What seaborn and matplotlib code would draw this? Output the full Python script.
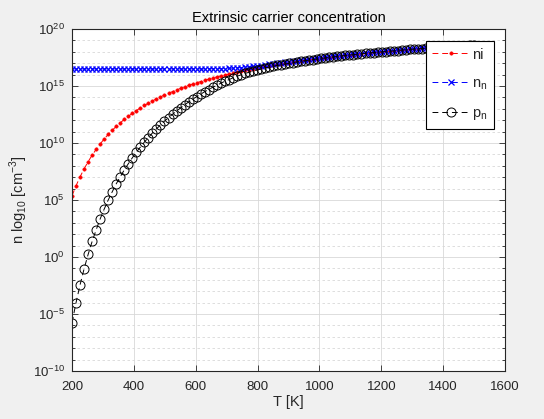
import numpy as np
import matplotlib
matplotlib.use('Agg')
import matplotlib.pyplot as plt
import seaborn as sns
from matplotlib.ticker import FixedLocator, NullFormatter

# temperature grid, K (200..1500, 13 K step)
T = list(range(200, 1501, 13))

# log10 of concentrations [cm^-3]
log_ni = [
    5.37, 6.25, 7.03, 7.73, 8.36, 8.93, 9.44, 9.92, 10.35, 10.75,
    11.11, 11.46, 11.77, 12.07, 12.34, 12.60, 12.85, 13.07, 13.29, 13.49,
    13.69, 13.87, 14.04, 14.21, 14.36, 14.51, 14.65, 14.79, 14.92, 15.05,
    15.17, 15.28, 15.39, 15.50, 15.60, 15.70, 15.79, 15.88, 15.97, 16.05,
    16.14, 16.22, 16.29, 16.37, 16.44, 16.51, 16.58, 16.64, 16.71, 16.77,
    16.83, 16.89, 16.94, 17.00, 17.05, 17.11, 17.16, 17.21, 17.26, 17.30,
    17.35, 17.40, 17.44, 17.48, 17.53, 17.57, 17.61, 17.65, 17.69, 17.72,
    17.76, 17.80, 17.83, 17.87, 17.90, 17.94, 17.97, 18.00, 18.03, 18.06,
    18.09, 18.12, 18.15, 18.18, 18.21, 18.24, 18.26, 18.29, 18.32, 18.34,
    18.37, 18.39, 18.42, 18.44, 18.47, 18.49, 18.51, 18.54, 18.56, 18.58,
    18.60,
]
log_nn = [16.50] * 30 + [
    16.50, 16.50, 16.50, 16.50, 16.51, 16.51, 16.52, 16.52, 16.53, 16.55,
    16.57, 16.59, 16.61, 16.64, 16.68, 16.71, 16.76, 16.79, 16.84, 16.89,
    16.93, 16.98, 17.02, 17.07, 17.11, 17.16, 17.21, 17.25, 17.30, 17.33,
    17.38, 17.43, 17.46, 17.50, 17.55, 17.59, 17.63, 17.67, 17.70, 17.73,
    17.77, 17.81, 17.84, 17.88, 17.91, 17.95, 17.98, 18.01, 18.04, 18.07,
    18.10, 18.13, 18.15, 18.18, 18.21, 18.24, 18.26, 18.29, 18.32, 18.34,
    18.37, 18.39, 18.42, 18.44, 18.47, 18.49, 18.51, 18.54, 18.56, 18.58,
    18.60,
]
log_pn = [
    -5.76, -4.00, -2.44, -1.04, 0.22, 1.36, 2.38, 3.34, 4.20, 5.00,
    5.72, 6.42, 7.04, 7.64, 8.18, 8.70, 9.20, 9.64, 10.08, 10.48,
    10.88, 11.24, 11.58, 11.92, 12.22, 12.52, 12.80, 13.08, 13.34, 13.60,
    13.84, 14.06, 14.28, 14.50, 14.69, 14.89, 15.06, 15.24, 15.41, 15.55,
    15.71, 15.85, 15.97, 16.10, 16.20, 16.31, 16.40, 16.49, 16.58, 16.65,
    16.73, 16.80, 16.86, 16.93, 16.99, 17.06, 17.11, 17.17, 17.22, 17.27,
    17.32, 17.37, 17.42, 17.46, 17.51, 17.55, 17.59, 17.63, 17.68, 17.71,
    17.75, 17.79, 17.82, 17.86, 17.89, 17.93, 17.96, 17.99, 18.02, 18.05,
    18.08, 18.11, 18.15, 18.18, 18.21, 18.24, 18.25, 18.28, 18.31, 18.33,
    18.36, 18.38, 18.41, 18.43, 18.46, 18.48, 18.50, 18.53, 18.55, 18.57,
    18.59,
]

labels = ['ni', r'$\mathregular{n_n}$', r'$\mathregular{p_n}$']

sns.set_style('ticks')
plt.rcParams['font.family'] = ['Liberation Sans', 'DejaVu Sans']
plt.rcParams['mathtext.fontset'] = 'custom'
plt.rcParams['mathtext.rm'] = 'Liberation Sans'

fig = plt.figure(figsize=(5.44, 4.19), dpi=100, facecolor='#f0f0f0')
ax = fig.add_axes([0.1324, 0.1146, 0.7959, 0.8162])
ax.set_facecolor('white')

dash = (0, (6, 4))
sns.lineplot(x=T, y=10 ** np.array(log_ni), ax=ax, color='red', linestyle=dash,
             marker='.', markersize=5, markeredgecolor='red', markeredgewidth=0.3,
             linewidth=0.7, label=labels[0])
sns.lineplot(x=T, y=10 ** np.array(log_nn), ax=ax, color='blue', linestyle=dash,
             marker='x', markersize=4.5, markeredgecolor='blue', markeredgewidth=0.9,
             linewidth=0.7, label=labels[1])
sns.lineplot(x=T, y=10 ** np.array(log_pn), ax=ax, color='black', linestyle=dash,
             marker='o', markersize=6.5, markerfacecolor='none',
             markeredgecolor='black', markeredgewidth=0.7, linewidth=0.7,
             label=labels[2])

ax.set_yscale('log')
ax.set_xlim(200, 1600)
ax.set_ylim(1e-10, 1e20)
ax.set_xticks(range(200, 1601, 200))
ax.set_yticks([10.0 ** k for k in range(-10, 21, 5)])
ax.yaxis.set_minor_locator(FixedLocator([10.0 ** k for k in range(-10, 21) if k % 5]))
ax.yaxis.set_minor_formatter(NullFormatter())

ax.grid(True, which='major', axis='both', color='#d8d8d8', linestyle='-', linewidth=0.6)
ax.grid(True, which='minor', axis='y', color='#d8d8d8', linestyle=(0, (3, 3)), linewidth=0.6)
ax.set_axisbelow(True)

for s in ax.spines.values():
    s.set_color('#262626')
    s.set_linewidth(0.8)
ax.tick_params(which='both', direction='in', top=True, right=True,
               colors='#262626', labelsize=9.5, width=0.6)
ax.tick_params(which='major', length=4)
ax.tick_params(which='minor', length=2.5)
ax.tick_params(axis='x', which='major', pad=7)
ax.tick_params(axis='y', which='major', pad=5)

ax.set_title('Extrinsic carrier concentration', fontsize=10.5, color='black', pad=5)
ax.set_xlabel('T [K]', fontsize=10.5, color='#262626', labelpad=2)
ax.set_ylabel(r'n log$_{10}$ [cm$^{-3}$]', fontsize=10.5, color='#262626', labelpad=2)

leg = ax.legend(loc='upper right', bbox_to_anchor=(0.975, 0.965), borderaxespad=0,
                fancybox=False, framealpha=1, edgecolor='black', fontsize=10.5,
                handlelength=2.6, labelspacing=1.0, borderpad=0.45, handletextpad=0.15)
leg.get_frame().set_linewidth(0.8)

fig.savefig('out.png', dpi=100, facecolor=fig.get_facecolor())
